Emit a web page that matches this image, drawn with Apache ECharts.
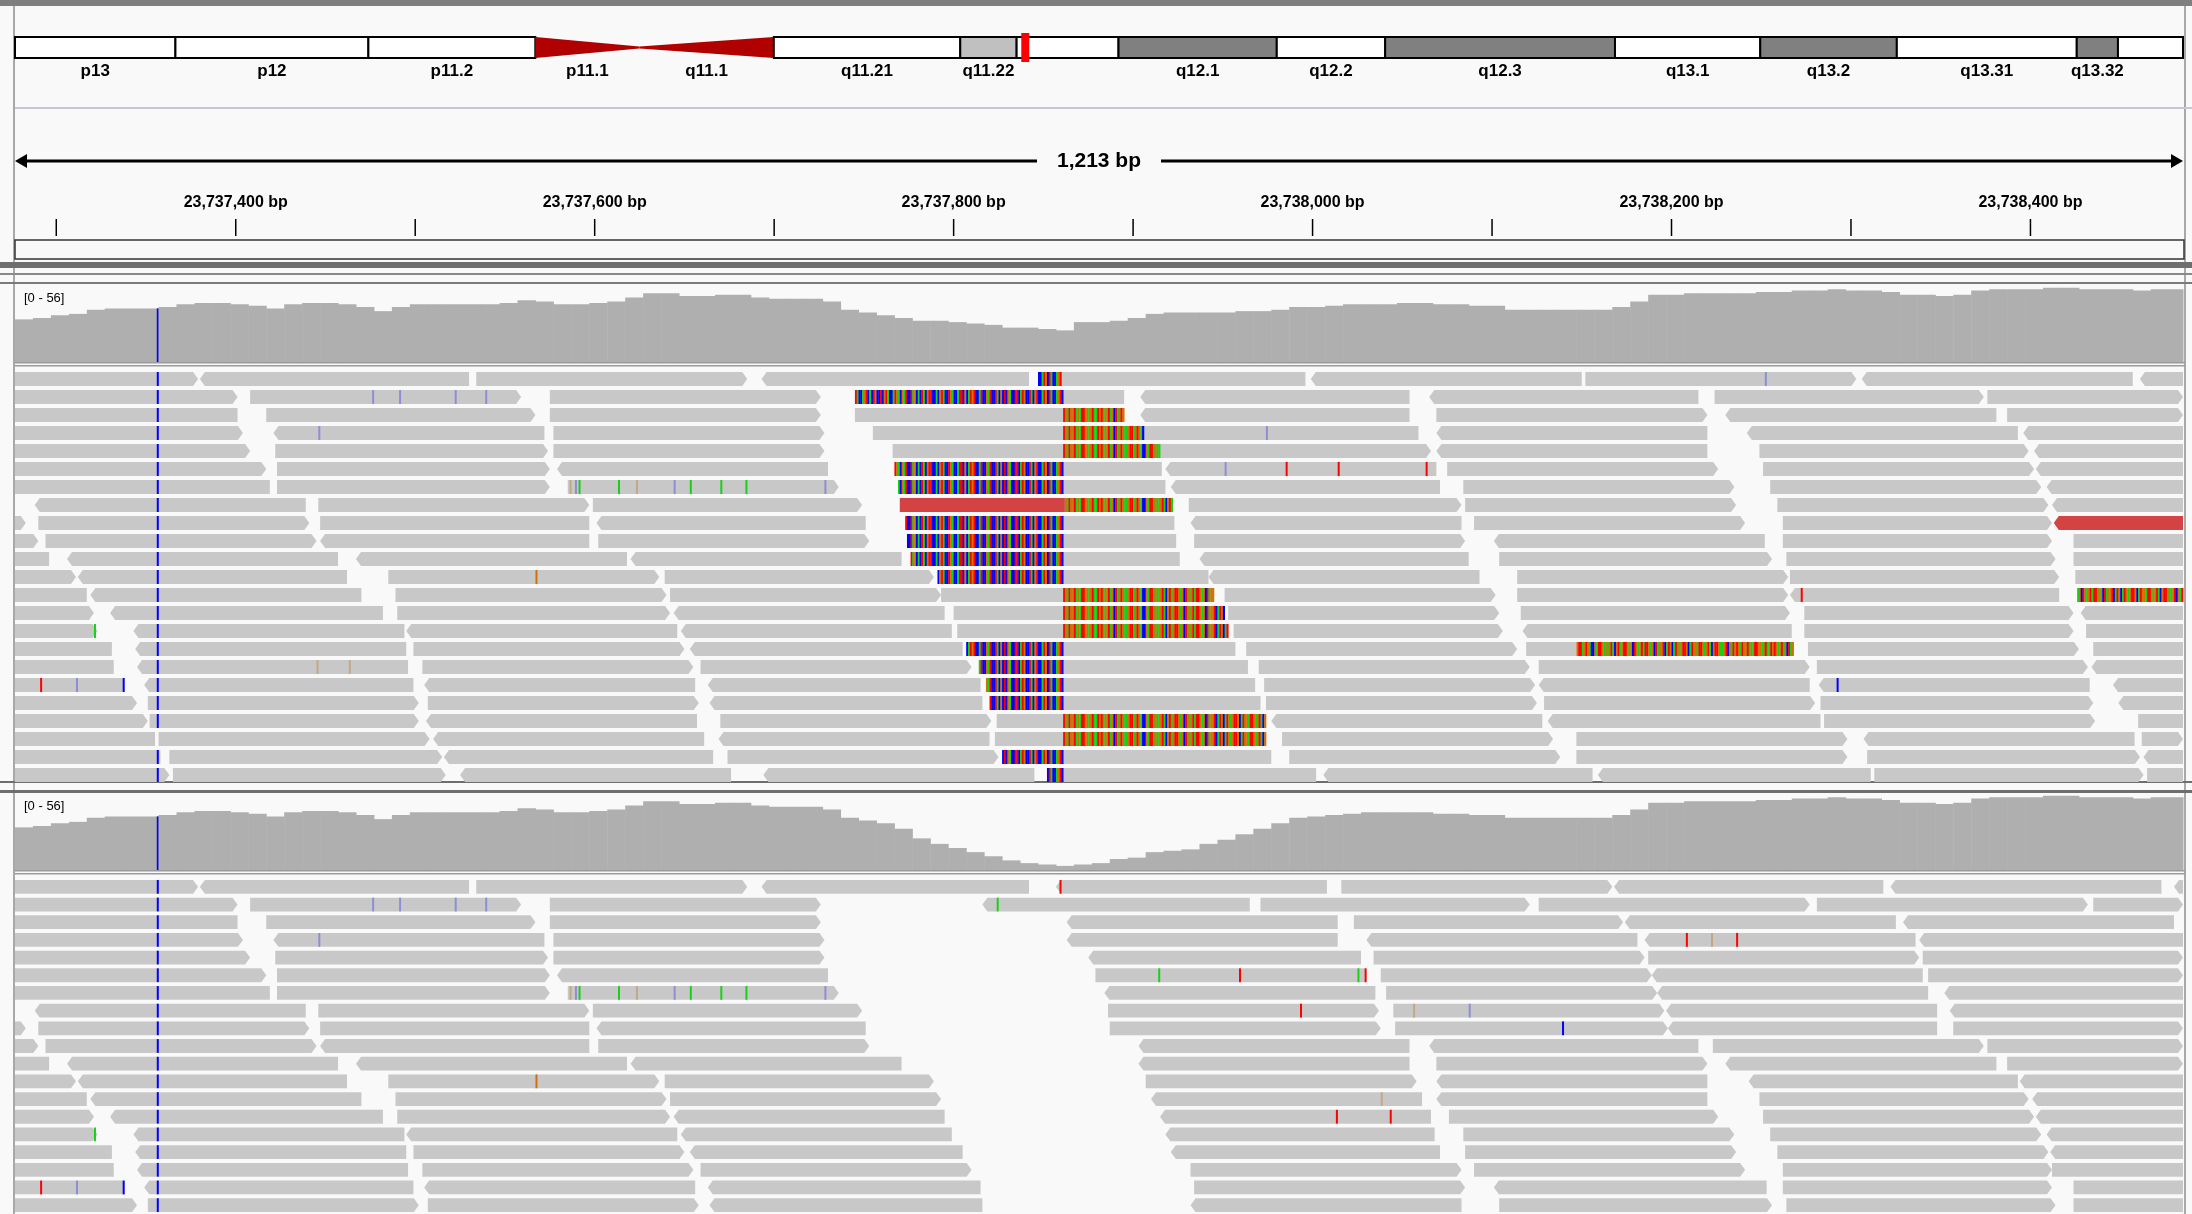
<!DOCTYPE html>
<html>
<head>
<meta charset="utf-8">
<script src="https://cdn.jsdelivr.net/npm/echarts@6/dist/echarts.min.js"></script>
<style>
  html, body { margin: 0; padding: 0; background: #f9f9f9; }
  #main { width: 2192px; height: 1214px; }
</style>
</head>
<body>
<div id="main"></div>
<script>
// window shown: offsets below are bp from START
const START = 23737277;
const END = START + 1208;
const SNP = 79; // blue column seen in every read

// ideogram bands, in percent along the chromosome: [from, to, stain, label]
const bands = [
  [0, 7.4, 'w', 'p13'], [7.4, 16.3, 'w', 'p12'], [16.3, 24, 'w', 'p11.2'],
  [24, 28.8, 'acenL', 'p11.1'], [28.8, 35, 'acenR', 'q11.1'],
  [35, 43.6, 'w', 'q11.21'], [43.6, 46.2, 'g', 'q11.22'], [46.2, 50.9, 'w', ''],
  [50.9, 58.2, 'd', 'q12.1'], [58.2, 63.2, 'w', 'q12.2'], [63.2, 73.8, 'd', 'q12.3'],
  [73.8, 80.5, 'w', 'q13.1'], [80.5, 86.8, 'd', 'q13.2'], [86.8, 95.1, 'w', 'q13.31'],
  [95.1, 97, 'd', 'q13.32'], [97, 100, 'w', '']
];
const ideoMarker = 46.6;

const rulerTicks = [23737300, 23737400, 23737500, 23737600, 23737700, 23737800, 23737900,
  23738000, 23738100, 23738200, 23738300, 23738400];
const rulerLabels = [23737400, 23737600, 23737800, 23738000, 23738200, 23738400];
const spanLabel = '1,213 bp';
const covRange = '[0 - 56]';
const covMax = 56;

// coverage, one value per 10 bp bin
const cov1 = [31,32,34,35,38,39,39,39,40,42,
  43,43,42,41,39,42,43,43,42,40,
  37,40,42,42,42,42,42,43,45,44,
  42,42,43,44,47,50,50,48,48,49,
  49,47,46,46,46,44,38,36,34,32,
  30,30,29,28,27,25,25,24,23,29,
  29,30,32,35,36,36,36,36,37,37,
  38,40,40,41,42,42,42,43,43,42,
  42,41,41,38,38,38,38,38,38,40,
  44,49,49,50,50,50,50,51,51,52,
  52,53,52,52,51,49,49,48,49,52,
  53,53,53,54,54,53,53,53,52,53,
  53];
const cov2 = [31,32,34,35,38,39,39,39,40,42,
  43,43,42,41,39,42,43,43,42,40,
  37,40,42,42,42,42,42,43,45,44,
  42,42,43,44,47,50,50,48,48,49,
  49,47,46,46,46,44,38,36,34,30,
  23,19,16,13,10,7,5,4,3,4,
  5,8,9,13,14,15,19,22,26,30,
  34,38,39,40,41,42,42,42,42,41,
  41,40,40,38,38,38,38,38,38,40,
  44,49,49,50,50,50,50,51,51,52,
  52,53,52,52,51,49,49,48,49,52,
  53,53,53,54,54,53,53,53,52,53,
  53];

// reads: [row, start, end, strand (1 fwd, -1 rev, 0 none), red]
const reads1 = [
  [0,0,102,1,0],[0,103,253,-1,0],[0,257,408,1,0],[0,416,565,-1,0],[0,583,719,0,0],[0,722,873,-1,0],[0,875,1026,1,0],[0,1029,1180,-1,0],[0,1184,1208,-1,0],
  [1,0,124,1,0],[1,131,282,1,0],[1,298,449,1,0],[1,584,618,0,0],[1,627,777,-1,0],[1,788,938,-1,0],[1,947,1097,1,0],[1,1099,1208,1,0],
  [2,0,124,0,0],[2,140,290,1,0],[2,298,449,1,0],[2,468,584,0,0],[2,627,777,-1,0],[2,792,943,1,0],[2,953,1104,-1,0],[2,1110,1208,1,0],
  [3,0,127,1,0],[3,144,295,-1,0],[3,300,451,1,0],[3,478,584,0,0],[3,629,782,0,0],[3,792,943,-1,0],[3,965,1116,-1,0],[3,1119,1208,-1,0],
  [4,0,131,1,0],[4,145,297,1,0],[4,300,451,1,0],[4,489,584,0,0],[4,638,789,1,0],[4,792,943,-1,0],[4,972,1122,1,0],[4,1125,1208,-1,0],
  [5,0,140,1,0],[5,146,298,1,0],[5,302,453,-1,0],[5,584,639,0,0],[5,641,792,-1,0],[5,798,949,1,0],[5,974,1125,1,0],[5,1126,1208,-1,0],
  [6,0,142,0,0],[6,146,298,1,0],[6,308,459,1,0],[6,584,641,0,0],[6,644,794,-1,0],[6,807,958,1,0],[6,978,1129,1,0],[6,1132,1208,-1,0],
  [7,11,162,-1,0],[7,169,320,1,0],[7,322,472,1,0],[7,493,585,0,1],[7,654,806,1,0],[7,808,959,1,0],[7,982,1133,1,0],[7,1135,1208,-1,0],
  [8,0,6,1,0],[8,13,164,1,0],[8,170,320,0,0],[8,324,474,-1,0],[8,584,646,0,0],[8,655,806,-1,0],[8,813,964,1,0],[8,985,1135,1,0],[8,1136,1208,-1,1],
  [9,0,13,1,0],[9,17,168,1,0],[9,170,320,-1,0],[9,325,476,1,0],[9,584,647,0,0],[9,657,808,1,0],[9,824,975,-1,0],[9,985,1135,1,0],[9,1147,1208,0,0],
  [10,0,19,0,0],[10,29,180,-1,0],[10,190,341,-1,0],[10,343,494,-1,0],[10,584,649,0,0],[10,660,810,-1,0],[10,827,979,1,0],[10,987,1137,1,0],[10,1147,1208,0,0],
  [11,0,34,1,0],[11,35,185,-1,0],[11,208,359,1,0],[11,362,512,1,0],[11,584,665,0,0],[11,665,816,-1,0],[11,837,988,1,0],[11,989,1139,1,0],[11,1148,1208,0,0],
  [12,0,40,0,0],[12,42,193,-1,0],[12,212,363,1,0],[12,365,516,1,0],[12,516,584,0,0],[12,674,825,1,0],[12,837,988,1,0],[12,989,1139,-1,0],
  [13,0,44,1,0],[13,53,205,-1,0],[13,213,365,1,0],[13,367,518,-1,0],[13,523,584,0,0],[13,676,827,1,0],[13,839,989,1,0],[13,997,1147,1,0],[13,1151,1208,-1,0],
  [14,0,46,1,0],[14,66,217,-1,0],[14,218,369,-1,0],[14,371,522,-1,0],[14,525,584,0,0],[14,679,829,1,0],[14,840,990,-1,0],[14,997,1147,1,0],[14,1154,1208,0,0],
  [15,0,54,0,0],[15,67,218,-1,0],[15,222,373,1,0],[15,376,528,-1,0],[15,584,680,0,0],[15,686,837,1,0],[15,842,870,0,0],[15,999,1150,1,0],[15,1158,1208,0,0],
  [16,0,55,0,0],[16,68,219,-1,0],[16,227,378,1,0],[16,382,533,1,0],[16,584,687,0,0],[16,693,844,1,0],[16,849,1000,1,0],[16,1004,1155,1,0],[16,1157,1208,-1,0],
  [17,0,61,0,0],[17,72,222,-1,0],[17,228,379,-1,0],[17,386,538,-1,0],[17,584,691,0,0],[17,696,847,1,0],[17,849,1000,-1,0],[17,1005,1156,-1,0],[17,1169,1208,-1,0],
  [18,0,68,1,0],[18,74,225,1,0],[18,230,381,1,0],[18,387,539,-1,0],[18,584,694,0,0],[18,697,848,1,0],[18,852,1003,1,0],[18,1006,1158,1,0],[18,1172,1208,-1,0],
  [19,0,74,1,0],[19,75,225,1,0],[19,229,380,-1,0],[19,393,544,1,0],[19,547,584,0,0],[19,700,851,-1,0],[19,854,1006,-1,0],[19,1008,1159,1,0],[19,1183,1208,0,0],
  [20,0,78,0,0],[20,80,231,1,0],[20,233,384,-1,0],[20,392,543,-1,0],[20,546,584,0,0],[20,706,857,1,0],[20,870,1021,1,0],[20,1030,1181,-1,0],[20,1185,1208,1,0],
  [21,0,81,0,0],[21,86,238,1,0],[21,239,389,-1,0],[21,397,548,1,0],[21,584,700,0,0],[21,710,861,1,0],[21,870,1021,1,0],[21,1032,1184,1,0],[21,1186,1208,-1,0],
  [22,0,86,1,0],[22,88,240,1,0],[22,248,399,-1,0],[22,417,568,-1,0],[22,584,725,0,0],[22,729,879,-1,0],[22,882,1034,-1,0],[22,1036,1186,1,0],[22,1188,1208,0,0]
];
// soft clips: [row, start, end, side] side 0 = left of breakpoint, 1 = right
const clips1 = [
  [0,570,583,0],[1,468,584,0],[2,584,618,1],[3,584,629,1],[4,584,638,1],[5,490,584,0],[6,492,584,0],
  [7,585,645,1],[8,496,584,0],[9,497,584,0],[10,499,584,0],[11,514,584,0],[12,584,668,1],[12,1149,1208,1],
  [13,584,674,1],[14,584,676,1],[15,530,584,0],[15,870,991,1],[16,537,584,0],[17,541,584,0],[18,543,584,0],
  [19,584,697,1],[20,584,697,1],[21,550,584,0],[22,575,584,0]
];
const reads2 = [
  [0,0,102,1,0],[0,103,253,-1,0],[0,257,408,1,0],[0,416,565,-1,0],[0,580,731,-1,0],[0,739,890,1,0],[0,891,1041,-1,0],[0,1045,1196,-1,0],[0,1203,1208,-1,0],
  [1,0,124,1,0],[1,131,282,1,0],[1,298,449,1,0],[1,539,688,-1,0],[1,694,844,1,0],[1,849,1000,1,0],[1,1004,1155,1,0],[1,1158,1208,1,0],
  [2,0,124,0,0],[2,140,290,1,0],[2,298,449,1,0],[2,586,737,-1,0],[2,746,896,1,0],[2,897,1048,-1,0],[2,1052,1203,-1,0],
  [3,0,127,1,0],[3,144,295,-1,0],[3,300,451,1,0],[3,586,737,-1,0],[3,753,904,-1,0],[3,908,1059,-1,0],[3,1061,1208,-1,0],
  [4,0,131,1,0],[4,145,297,1,0],[4,300,451,1,0],[4,598,750,-1,0],[4,757,908,1,0],[4,910,1061,1,0],[4,1063,1208,1,0],
  [5,0,140,1,0],[5,146,298,1,0],[5,302,453,-1,0],[5,602,753,0,0],[5,761,912,1,0],[5,912,1063,-1,0],[5,1066,1208,1,0],
  [6,0,142,0,0],[6,146,298,1,0],[6,308,459,1,0],[6,607,758,-1,0],[6,764,915,1,0],[6,915,1066,-1,0],[6,1075,1208,-1,0],
  [7,11,162,-1,0],[7,169,320,1,0],[7,322,472,1,0],[7,609,760,1,0],[7,768,919,1,0],[7,920,1071,-1,0],[7,1078,1208,-1,0],
  [8,0,6,1,0],[8,13,164,1,0],[8,170,320,0,0],[8,324,474,-1,0],[8,610,761,1,0],[8,769,921,1,0],[8,921,1071,-1,0],[8,1080,1208,1,0],
  [9,0,13,1,0],[9,17,168,1,0],[9,170,320,-1,0],[9,325,476,1,0],[9,626,777,-1,0],[9,788,938,-1,0],[9,946,1097,1,0],[9,1099,1208,1,0],
  [10,0,19,0,0],[10,29,180,-1,0],[10,190,341,-1,0],[10,343,494,-1,0],[10,626,777,-1,0],[10,792,943,1,0],[10,953,1104,-1,0],[10,1110,1208,1,0],
  [11,0,34,1,0],[11,35,185,-1,0],[11,208,359,1,0],[11,362,512,1,0],[11,630,781,1,0],[11,792,943,-1,0],[11,966,1116,-1,0],[11,1117,1208,-1,0],
  [12,0,40,0,0],[12,42,193,-1,0],[12,212,363,1,0],[12,365,516,1,0],[12,633,784,-1,0],[12,792,943,-1,0],[12,972,1122,1,0],[12,1124,1208,-1,0],
  [13,0,44,1,0],[13,53,205,-1,0],[13,213,365,1,0],[13,367,518,-1,0],[13,638,789,-1,0],[13,799,949,1,0],[13,974,1125,1,0],[13,1126,1208,-1,0],
  [14,0,46,1,0],[14,66,217,-1,0],[14,218,369,-1,0],[14,371,522,-1,0],[14,641,791,-1,0],[14,807,958,1,0],[14,978,1129,1,0],[14,1132,1208,-1,0],
  [15,0,54,0,0],[15,67,218,-1,0],[15,222,373,1,0],[15,376,528,-1,0],[15,644,794,-1,0],[15,808,959,1,0],[15,982,1133,1,0],[15,1134,1208,-1,0],
  [16,0,55,0,0],[16,68,219,-1,0],[16,227,378,1,0],[16,382,533,1,0],[16,655,806,1,0],[16,813,964,1,0],[16,985,1135,1,0],[16,1135,1208,0,0],
  [17,0,61,0,0],[17,72,222,-1,0],[17,228,379,-1,0],[17,386,538,-1,0],[17,657,808,1,0],[17,824,976,-1,0],[17,985,1135,1,0],[17,1147,1208,0,0],
  [18,0,68,1,0],[18,74,225,1,0],[18,230,381,1,0],[18,387,539,-1,0],[18,655,806,-1,0],[18,827,979,1,0],[18,987,1137,1,0],[18,1147,1208,0,0]
];

// mismatches: [row, pos, base, strong]
const mism1 = [
  [1,199,'C',0],[1,214,'C',0],[1,245,'C',0],[1,262,'C',0],[3,169,'C',0],
  [6,309,'G',0],[6,312,'C',0],[6,314,'A',1],[6,336,'A',1],[6,346,'G',0],[6,367,'C',0],[6,376,'A',1],[6,393,'A',1],[6,407,'A',1],[6,451,'C',0],
  [11,290,'G',1],[14,44,'A',1],[17,14,'T',1],[17,34,'C',0],[17,60,'C',1],[16,168,'G',0],[16,186,'G',0],
  [3,697,'C',0],[5,674,'C',0],[5,708,'T',1],[5,737,'T',1],[5,786,'T',1],[12,995,'T',1],[17,1015,'C',1],[0,975,'C',0]
];
const mism2 = [
  [1,199,'C',0],[1,214,'C',0],[1,245,'C',0],[1,262,'C',0],[3,169,'C',0],
  [6,309,'G',0],[6,312,'C',0],[6,314,'A',1],[6,336,'A',1],[6,346,'G',0],[6,367,'C',0],[6,376,'A',1],[6,393,'A',1],[6,407,'A',1],[6,451,'C',0],
  [11,290,'G',1],[14,44,'A',1],[17,14,'T',1],[17,34,'C',0],[17,60,'C',1],
  [0,582,'T',1],[1,547,'A',1],[3,931,'T',1],[3,959,'T',1],[3,945,'G',0],[5,637,'A',1],[5,682,'T',1],[5,748,'A',1],[5,752,'T',1],
  [7,716,'T',1],[7,779,'G',0],[7,810,'C',0],[8,862,'C',1],[12,761,'G',0],[13,766,'T',1],[13,736,'T',1]
];

// bases of the clipped sequence, read outward from the breakpoint
const clipSeqL = 'CTGACCATCGTACCTGCATCCGTACTTCCAGCTCGCATCCTAGCCTACCTGTACGCTTACCAGTCCATGCACCTTGCATCACGATCCTAGCAGTACCATGCTCCGTCA';
const clipSeqR = 'TGATGGTAGATTGGAGTAATGTGAGTAGCTAGTGAAGTTAGTGACCGATTGAGAGTACGTAGTTGAGCTGAGTATTGAGCTAGGTCATGCATGAGTTGCATGGATTGAGTACGTTGAAGTCGATG';
const BREAK = 584;

const baseColor = { A: '#17d117', C: '#0000ff', G: '#d17105', T: '#ff0000' };
const faintColor = { A: '#8ad88a', C: '#8e8ed6', G: '#c4a886', T: '#e58a8a' };
const READ = '#c8c8c8';
const FONT = '"Liberation Sans", Arial, sans-serif';

const chart = echarts.init(document.getElementById('main'));

function readsRender(src) {
  return function (params, api) {
    const d = src[params.dataIndex];
    const c = api.coord([START + d[1], d[0] + 0.5]);
    const c2 = api.coord([START + d[2], d[0] + 0.5]);
    const h = api.size([0, 1])[1] * 0.78;
    const bpW = api.size([1, 0])[0];
    const top = c[1] - h / 2, bot = c[1] + h / 2, tip = 5;
    let pts;
    if (d[3] > 0) pts = [[c[0], top], [c2[0] - tip, top], [c2[0], c[1]], [c2[0] - tip, bot], [c[0], bot]];
    else if (d[3] < 0) pts = [[c[0] + tip, top], [c2[0], top], [c2[0], bot], [c[0] + tip, bot], [c[0], c[1]]];
    else pts = [[c[0], top], [c2[0], top], [c2[0], bot], [c[0], bot]];
    const children = [{ type: 'polygon', shape: { points: pts }, style: { fill: d[4] ? '#d44343' : READ } }];
    if (SNP >= d[1] && SNP < d[2]) {
      const s = api.coord([START + SNP, 0])[0];
      children.push({ type: 'rect', shape: { x: s, y: top, width: Math.max(bpW, 2), height: h }, style: { fill: '#0000ff' } });
    }
    return { type: 'group', children: children };
  };
}

function clipsRender(src) {
  return function (params, api) {
    const d = src[params.dataIndex];
    const y = api.coord([START, d[0] + 0.5])[1];
    const h = api.size([0, 1])[1] * 0.78;
    const bpW = api.size([1, 0])[0];
    const children = [];
    for (let p = d[1]; p < d[2]; p++) {
      const seq = d[3] ? clipSeqR : clipSeqL;
      const k = d[3] ? (p - BREAK) : (BREAK - 1 - p);
      const b = seq[((k % seq.length) + seq.length) % seq.length];
      const x = api.coord([START + p, 0])[0];
      children.push({ type: 'rect', shape: { x: x, y: y - h / 2, width: bpW + 0.4, height: h }, style: { fill: baseColor[b] } });
    }
    return { type: 'group', children: children };
  };
}

function mismRender(src) {
  return function (params, api) {
    const d = src[params.dataIndex];
    const c = api.coord([START + d[1], d[0] + 0.5]);
    const h = api.size([0, 1])[1] * 0.78;
    const bpW = api.size([1, 0])[0];
    return { type: 'rect', shape: { x: c[0], y: c[1] - h / 2, width: Math.max(bpW, 2), height: h },
      style: { fill: d[3] ? baseColor[d[2]] : faintColor[d[2]] } };
  };
}

function covRender(src) {
  return function (params, api) {
    const i = params.dataIndex;
    const p0 = api.coord([START + i * 10, src[i]]);
    const p1 = api.coord([START + Math.min(i * 10 + 10, 1208), 0]);
    const children = [{ type: 'rect', shape: { x: p0[0], y: p0[1], width: p1[0] - p0[0] + 0.5, height: p1[1] - p0[1] },
      style: { fill: '#afafaf' } }];
    if (SNP >= i * 10 && SNP < i * 10 + 10) {
      const s = api.coord([START + SNP, 0])[0];
      children.push({ type: 'rect', shape: { x: s, y: p0[1], width: 2, height: p1[1] - p0[1] }, style: { fill: '#0000ff' } });
    }
    return { type: 'group', children: children };
  };
}

const bandFill = { w: '#ffffff', g: '#c0c0c0', d: '#808080' };

function bandRender(params, api) {
  const b = bands[params.dataIndex];
  const cs = params.coordSys;
  const x0 = api.coord([b[0], 0])[0], x1 = api.coord([b[1], 0])[0];
  const top = cs.y, bot = cs.y + cs.height, mid = (top + bot) / 2;
  const children = [];
  if (b[2] === 'acenL') {
    children.push({ type: 'polygon', shape: { points: [[x0, top], [x1, mid - 1], [x1, mid + 1], [x0, bot]] }, style: { fill: '#b00000' } });
  } else if (b[2] === 'acenR') {
    children.push({ type: 'polygon', shape: { points: [[x0, mid - 1], [x1, top], [x1, bot], [x0, mid + 1]] }, style: { fill: '#b00000' } });
  } else {
    children.push({ type: 'rect', shape: { x: x0, y: top, width: x1 - x0, height: bot - top },
      style: { fill: bandFill[b[2]], stroke: '#000', lineWidth: 2 } });
  }
  if (b[3]) {
    children.push({ type: 'text', style: { text: b[3], x: (x0 + x1) / 2, y: bot + 13, align: 'center', verticalAlign: 'middle',
      font: 'bold 17px ' + FONT, fill: '#000' } });
  }
  return { type: 'group', children: children };
}

function markerRender(params, api) {
  const cs = params.coordSys;
  const x = api.coord([ideoMarker, 0])[0];
  return { type: 'rect', shape: { x: x - 4, y: cs.y - 4, width: 8, height: cs.height + 8 }, style: { fill: '#ff0000' } };
}

function rulerRender(params, api) {
  const cs = params.coordSys;
  const t = rulerTicks[params.dataIndex];
  const x = api.coord([t, 0])[0];
  const children = [{ type: 'line', shape: { x1: x, y1: cs.y + 79, x2: x, y2: cs.y + 96 }, style: { stroke: '#000', lineWidth: 1.5 } }];
  if (rulerLabels.indexOf(t) >= 0) {
    children.push({ type: 'text', style: { text: t.toLocaleString('en-US') + ' bp', x: x, y: cs.y + 63, align: 'center',
      verticalAlign: 'middle', font: 'bold 16px ' + FONT, fill: '#000' } });
  }
  return { type: 'group', children: children };
}

function spanRender(params, api) {
  const cs = params.coordSys;
  const x0 = api.coord([START, 0])[0], x1 = api.coord([END, 0])[0];
  const y = cs.y + 21, xm = (x0 + x1) / 2, gap = 62;
  return { type: 'group', children: [
    { type: 'line', shape: { x1: x0 + 4, y1: y, x2: xm - gap, y2: y }, style: { stroke: '#000', lineWidth: 3 } },
    { type: 'line', shape: { x1: xm + gap, y1: y, x2: x1 - 4, y2: y }, style: { stroke: '#000', lineWidth: 3 } },
    { type: 'polygon', shape: { points: [[x0, y], [x0 + 12, y - 7], [x0 + 12, y + 7]] }, style: { fill: '#000' } },
    { type: 'polygon', shape: { points: [[x1, y], [x1 - 12, y - 7], [x1 - 12, y + 7]] }, style: { fill: '#000' } },
    { type: 'text', style: { text: spanLabel, x: xm, y: y, align: 'center', verticalAlign: 'middle', font: 'bold 21px ' + FONT, fill: '#000' } }
  ] };
}

const L = 15, R = 9;
const grids = [
  { left: L, right: R, top: 37, height: 21 },      // ideogram
  { left: L, right: R, top: 140, height: 100 },    // ruler
  { left: L, right: R, top: 285, height: 77 },     // coverage 1
  { left: L, right: R, top: 370, height: 23 * 18 },// reads 1
  { left: L, right: R, top: 793, height: 77 },     // coverage 2
  { left: L, right: R, top: 878, height: 19 * 18 } // reads 2
];
const xAxes = grids.map((g, i) => ({ gridIndex: i, type: 'value', show: false,
  min: i === 0 ? 0 : START, max: i === 0 ? 100 : END }));
const yAxes = [
  { gridIndex: 0, type: 'value', show: false, min: 0, max: 1 },
  { gridIndex: 1, type: 'value', show: false, min: 0, max: 1 },
  { gridIndex: 2, type: 'value', show: false, min: 0, max: covMax },
  { gridIndex: 3, type: 'value', show: false, min: 0, max: 23, inverse: true },
  { gridIndex: 4, type: 'value', show: false, min: 0, max: covMax },
  { gridIndex: 5, type: 'value', show: false, min: 0, max: 19, inverse: true }
];

function custom(ax, data, render, z) {
  return { type: 'custom', xAxisIndex: ax, yAxisIndex: ax, data: data.map(() => [0]),
    renderItem: render, silent: true, z: z || 2 };
}

const W = 2192;
chart.setOption({
  animation: false,
  backgroundColor: '#f9f9f9',
  grid: grids,
  xAxis: xAxes,
  yAxis: yAxes,
  graphic: [
    { type: 'rect', shape: { x: 0, y: 0, width: W, height: 6 }, style: { fill: '#7f7f7f' } },
    { type: 'line', shape: { x1: 14, y1: 6, x2: 14, y2: 1214 }, style: { stroke: '#a8a8a8', lineWidth: 2 } },
    { type: 'line', shape: { x1: 2185, y1: 6, x2: 2185, y2: 1214 }, style: { stroke: '#a8a8a8', lineWidth: 2 } },
    { type: 'line', shape: { x1: 15, y1: 108, x2: W, y2: 108 }, style: { stroke: '#c8c8d0', lineWidth: 2 } },
    { type: 'rect', shape: { x: 15, y: 240, width: 2169, height: 19 }, style: { fill: '#f9f9f9', stroke: '#333', lineWidth: 1.5 } },
    { type: 'rect', shape: { x: 0, y: 262, width: W, height: 6 }, style: { fill: '#6e6e6e' } },
    { type: 'rect', shape: { x: 0, y: 273, width: W, height: 2 }, style: { fill: '#8a8a8a' } },
    { type: 'rect', shape: { x: 0, y: 282, width: W, height: 2 }, style: { fill: '#7a7a7a' } },
    { type: 'rect', shape: { x: 15, y: 362, width: 2170, height: 1.5 }, style: { fill: '#9a9a9a' } },
    { type: 'rect', shape: { x: 15, y: 365, width: 2170, height: 1.5 }, style: { fill: '#9a9a9a' } },
    { type: 'rect', shape: { x: 0, y: 781, width: W, height: 2 }, style: { fill: '#6e6e6e' } },
    { type: 'rect', shape: { x: 0, y: 790, width: W, height: 3 }, style: { fill: '#6e6e6e' } },
    { type: 'rect', shape: { x: 15, y: 870, width: 2170, height: 1.5 }, style: { fill: '#9a9a9a' } },
    { type: 'rect', shape: { x: 15, y: 873, width: 2170, height: 1.5 }, style: { fill: '#9a9a9a' } },
    { type: 'text', z: 10, style: { text: covRange, x: 24, y: 298, font: '13px ' + FONT, fill: '#000', verticalAlign: 'middle' } },
    { type: 'text', z: 10, style: { text: covRange, x: 24, y: 806, font: '13px ' + FONT, fill: '#000', verticalAlign: 'middle' } }
  ],
  series: [
    custom(0, bands, bandRender),
    custom(0, [0], markerRender, 3),
    custom(1, rulerTicks, rulerRender),
    custom(1, [0], spanRender),
    custom(2, cov1, covRender(cov1)),
    custom(3, reads1, readsRender(reads1)),
    custom(3, clips1, clipsRender(clips1), 3),
    custom(3, mism1, mismRender(mism1), 4),
    custom(4, cov2, covRender(cov2)),
    custom(5, reads2, readsRender(reads2)),
    custom(5, mism2, mismRender(mism2), 4)
  ]
});
</script>
</body>
</html>
